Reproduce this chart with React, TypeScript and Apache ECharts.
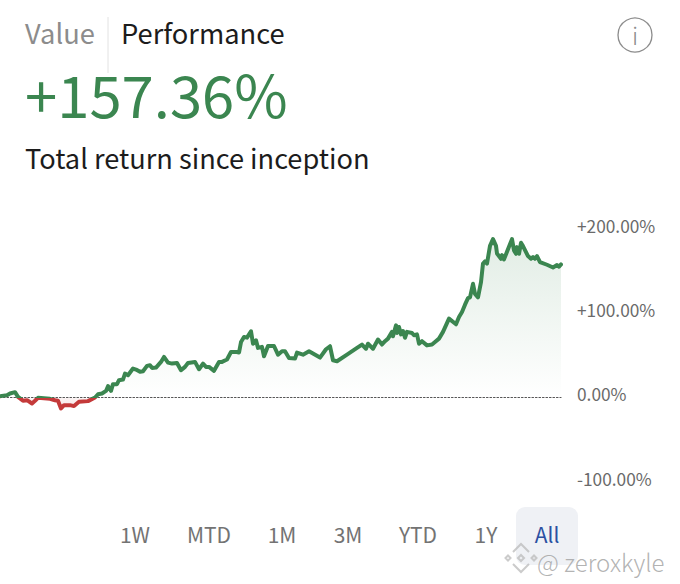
import React, { useEffect, useRef } from "react";
import * as echarts from "echarts";

const FONT = '"Noto Sans CJK SC", "Noto Sans", sans-serif';
const GREEN = "#3b8650";
const RED = "#c43a3a";

const days = [0,7,10,15,18,21,23,27,32,35,38,50,55,58,61,64,70,74,79,88,95,98,102,106,108,111,113,117,119,123,125,128,133,136,140,143,147,150,152,156,161,164,168,172,177,181,185,188,195,199,203,206,209,214,219,222,227,231,237,239,241,244,247,251,253,256,258,262,264,268,274,278,282,285,289,295,297,303,309,320,326,330,333,337,347,357,362,366,368,373,378,380,382,385,388,392,393,396,397,399,401,403,405,407,412,414,417,419,422,427,432,435,439,443,449,456,459,462,465,468,470,473,475,478,481,483,485,487,490,493,496,497,501,502,504,507,512,514,516,517,519,521,523,528,531,533,535,537,540,547,553,557,559,561];
const returns = [1.8,3,5,6.5,1,-1.8,-3.7,-3,-6.9,-3.7,-0.2,-1.4,-3,-3.7,-12.8,-8.9,-8.9,-10,-4.9,-4.1,0.2,4,5,8,13.6,8,16,16,20.7,21.5,28.6,26.6,34.5,33.3,30.6,31.4,37.7,38.5,35.3,35.7,42.4,48.3,41.6,40.4,41.2,32.5,36.5,41.2,42.4,33.7,40.4,36.5,36.5,31.8,42.4,42.4,45.2,54.2,54.2,53.5,66,72,71.2,78.7,64,68,59,60.2,49,61.3,61.3,51,55,55,47,46.4,53.5,51,55,47.5,57.4,61,44.4,43.2,51,59,63,58,64,58,69,66,63,67,70,78,72.8,85.8,76.7,83.8,75,79,71,78,76.7,74,75,64,67,62,63,66,70,78,93.7,87,95.7,101.6,110.3,118,119,135,123,119,137,159,161.5,159,180,188,180,171,164.7,169,164,173,188,174.6,170.6,178.5,170.6,183.6,179.7,167.9,164.7,166.7,164.7,167.9,160.8,157.6,154.4,157.2,155.3,158];
const tickLabels: Record<string, string> = { "200": "+200.00%", "100": "+100.00%", "0": "0.00%", "-100": "-100.00%" };
const ranges = ["1W", "MTD", "1M", "3M", "YTD", "1Y", "All"];
const rangeX = [135, 209, 282, 348, 418, 486, 547];

const GRID_TOP = 229;
const GRID_H = 253;

function text(x: number, y: number, t: string, size: number, fill: string, align = "left", weight: any = 400) {
  return { type: "text", x, y, silent: true, style: { text: t, fontSize: size, fill, fontFamily: FONT, fontWeight: weight, textAlign: align, textVerticalAlign: "middle" } };
}
function diamond(cx: number, cy: number, r: number, stroke: string) {
  return { type: "polygon", silent: true, shape: { points: [[cx, cy - r], [cx + r, cy], [cx, cy + r], [cx - r, cy]] }, style: { fill: "none", stroke, lineWidth: 2 } };
}
function chevron(pts: number[][], stroke: string) {
  return { type: "polyline", silent: true, shape: { points: pts }, style: { fill: "none", stroke, lineWidth: 2 } };
}

export default function App() {
  const ref = useRef<HTMLDivElement>(null);
  useEffect(() => {
    document.body.style.margin = "0";
    document.body.style.background = "#fff";
    const chart = echarts.init(ref.current!, null, { renderer: "svg" });
    const mark = "rgba(185,185,185,0.75)";
    const zero = 2 / 3;
    const lx = 521, ly = 558;
    chart.setOption({
      animation: false,
      backgroundColor: "#fff",
      grid: { left: 0, right: 119, top: GRID_TOP, height: GRID_H },
      xAxis: {
        type: "value", min: 0, max: 561, splitLine: { show: false }, axisTick: { show: false }, axisLabel: { show: false },
        axisLine: { show: true, onZero: true, lineStyle: { color: "#555", type: [1.5, 2], width: 1.2 } },
      },
      yAxis: {
        type: "value", position: "right", min: -100, max: 200, interval: 100,
        splitLine: { show: false }, axisLine: { show: false }, axisTick: { show: false },
        axisLabel: {
          margin: 16, color: "#6a6a6a", fontSize: 17, fontFamily: FONT, verticalAlign: "middle",
          formatter: (v: number) => `{a|${tickLabels[String(v)] ?? ""}}`,
          rich: { a: { padding: [0, 0, 8, 0], color: "#6a6a6a", fontSize: 17.3, fontFamily: FONT } },
        },
      },
      series: [{
        type: "line", data: days.map((d, i) => [d, returns[i]]), showSymbol: false, symbol: "none", smooth: false,
        lineStyle: {
          width: 4, join: "round", cap: "round",
          color: new echarts.graphic.LinearGradient(0, GRID_TOP, 0, GRID_TOP + GRID_H, [
            { offset: 0, color: GREEN }, { offset: zero, color: GREEN }, { offset: zero, color: RED }, { offset: 1, color: RED },
          ], true),
        },
        areaStyle: {
          opacity: 1,
          color: new echarts.graphic.LinearGradient(0, GRID_TOP, 0, GRID_TOP + GRID_H, [
            { offset: 0.03, color: "rgba(59,134,80,0.15)" },
            { offset: zero, color: "rgba(59,134,80,0)" },
            { offset: zero, color: "rgba(196,58,58,0.05)" },
            { offset: 0.72, color: "rgba(196,58,58,0.16)" },
            { offset: 1, color: "rgba(196,58,58,0.16)" },
          ], true),
        },
      }],
      graphic: [
        text(25, 32, "Value", 27.3, "#8c8c8c"),
        { type: "line", silent: true, shape: { x1: 108, y1: 17, x2: 108, y2: 73 }, style: { stroke: "#e2e2e2", lineWidth: 1 } },
        text(121, 32, "Performance", 27.3, "#1c1c1c"),
        { type: "circle", silent: true, shape: { cx: 635, cy: 35, r: 17 }, style: { fill: "none", stroke: "#8c8c8c", lineWidth: 1.3 } },
        text(635, 34, "i", 24, "#8c8c8c", "center", 300),
        text(25, 93, "+157.36%", 58, GREEN),
        text(25, 157, "Total return since inception", 27.2, "#1c1c1c"),
        { type: "rect", silent: true, shape: { x: 516, y: 507, width: 62, height: 58, r: 9 }, style: { fill: "#eff1f5" } },
        ...ranges.map((r, i) => text(rangeX[i], 534, r, 21, r === "All" ? "#2b50a2" : "#737373", "center")),
        diamond(lx, ly, 3, mark), diamond(lx - 13, ly, 2.5, mark), diamond(lx + 13, ly, 2.5, mark),
        chevron([[lx - 8, ly - 6], [lx, ly - 14], [lx + 8, ly - 6]], mark),
        chevron([[lx - 8, ly + 6], [lx, ly + 14], [lx + 8, ly + 6]], mark),
        text(537, 561, "@ zeroxkyle", 24, "rgba(165,165,165,0.85)", "left", 300),
      ],
    });
    return () => chart.dispose();
  }, []);
  return <div ref={ref} style={{ position: "absolute", left: 0, top: 0, width: 680, height: 584 }} />;
}
